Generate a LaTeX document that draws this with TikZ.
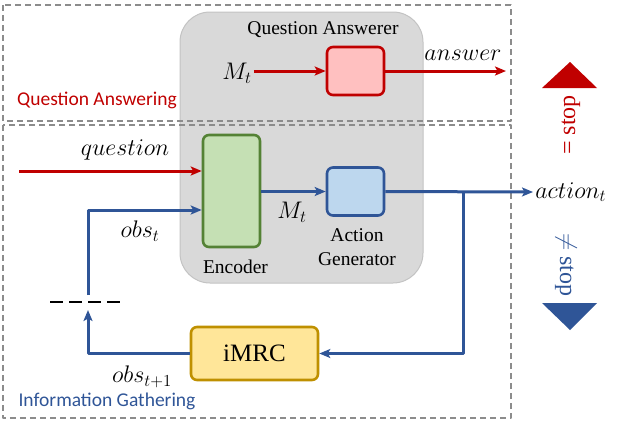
\documentclass[tikz,border=0pt]{standalone}
\usepackage{fix-cm}
\usepackage{fontspec}
\setmainfont{Liberation Serif}
\newfontfamily\regionfont{Carlito}
\usetikzlibrary{positioning,arrows.meta}
\definecolor{qared}{RGB}{192,0,0}
\definecolor{igblue}{RGB}{47,85,151}
\definecolor{encgreen}{RGB}{84,130,53}
\definecolor{encfill}{RGB}{197,224,180}
\definecolor{ansfill}{RGB}{255,192,192}
\definecolor{genfill}{RGB}{189,215,238}
\definecolor{envgold}{RGB}{191,144,0}
\definecolor{envfill}{RGB}{255,230,153}
\definecolor{panel}{RGB}{217,217,217}
\definecolor{panelline}{RGB}{195,195,195}
\definecolor{frameline}{RGB}{140,140,140}
\begin{document}
\begin{tikzpicture}[x=1pt,y=-1pt,line join=round,>={Stealth[length=11pt,width=9pt,inset=2.5pt]},thick]
	\tikzset{
		block/.style={draw,line width=2.6pt,rounded corners=6pt,minimum width=57pt,minimum height=48pt,inner sep=0pt},
		region/.style={draw=frameline,line width=1.2pt,dash pattern=on 6pt off 4pt},
		flow/.style={->,line width=3pt},
		var/.style={font=\fontsize{24}{26}\selectfont,inner sep=2pt},
		caption/.style={font=\fontsize{19.5}{24}\selectfont,align=center,inner sep=0pt},
		regionlabel/.style={font=\regionfont\fontsize{19.5}{22}\selectfont,inner sep=0pt},
		verdict/.style={font=\fontsize{24}{28}\selectfont,inner sep=0pt}
	}
	\useasboundingbox (0,0) rectangle (619,424);
	\draw[fill=panel,draw=panelline,line width=1pt,rounded corners=30pt] (180,12) rectangle (423,283);
	\draw[region] (3,5) rectangle (511,121);
	\draw[region] (3,125) rectangle (511,418);
	\node[caption] (qatitle) at (323,30) {Question Answerer};
	\node[regionlabel,text=qared] (qalabel) at (97,100) {Question Answering};
	\node[regionlabel,text=igblue] (iglabel) at (107,401) {Information Gathering};
	\node[block,draw=qared,fill=ansfill] (answerer) at (355.5,71) {};
	\node[block,draw=encgreen,fill=encfill,minimum height=112pt] (encoder) at (231.5,191) {};
	\node[block,draw=igblue,fill=genfill] (generator) at (355.5,191.5) {};
	\node[block,draw=envgold,fill=envfill,minimum width=127pt,minimum height=53pt,font=\fontsize{25}{28}\selectfont] (imrc) at (254.5,353.5) {iMRC};
	\node[caption] (enclabel) at (235.5,267) {Encoder};
	\node[caption] (genlabel) at (357,247) {Action\\Generator};
	\node[var] (mtop) at (237,73) {$M_t$};
	\node[var] (answer) at (463,55) {$answer$};
	\node[var] (question) at (125,150) {$question$};
	\node[var] (mmid) at (292,212) {$M_t$};
	\node[var] (obst) at (140,231) {$obs_t$};
	\node[var] (obsnext) at (142,377) {$obs_{t+1}$};
	\node[var,anchor=west] (action) at (533,192) {$action_t$};
	\coordinate (ansend) at (506,71);
	\coordinate (qstart) at (19,171);
	\coordinate (obsin) at (88,210);
	\coordinate (gatetop) at (88,295);
	\coordinate (gatebot) at (88,310);
	\coordinate (split) at (463,192);
	\begin{scope}[color=qared]
		\draw[flow] (mtop.east |- answerer.west) -- (answerer.west);
		\draw[flow] (answerer.east) -- (ansend);
		\draw[flow] (qstart) -- (qstart -| encoder.west);
	\end{scope}
	\begin{scope}[color=igblue]
		\draw[flow] (gatetop) -- (obsin) -- (obsin -| encoder.west);
		\draw[flow] (encoder.east |- generator.west) -- (generator.west);
		\draw[flow] (generator.east) -- (action.west);
		\draw[flow] (split) |- (imrc.east);
		\draw[flow] (imrc.west) -| (gatebot);
	\end{scope}
	\draw[line width=2.6pt,dash pattern=on 12.5pt off 6.5pt] (50,302) -- (120,302);
	\fill[qared] (570,62) -- (597,88) -- (542,88) -- cycle;
	\fill[igblue] (542,303) -- (597,303) -- (570,330) -- cycle;
	\node[verdict,text=qared,rotate=90] (stopyes) at (571,125) {= stop};
	\node[verdict,text=igblue,rotate=-90] (stopno) at (566,265) {$\neq$ stop};
\end{tikzpicture}
\end{document}
